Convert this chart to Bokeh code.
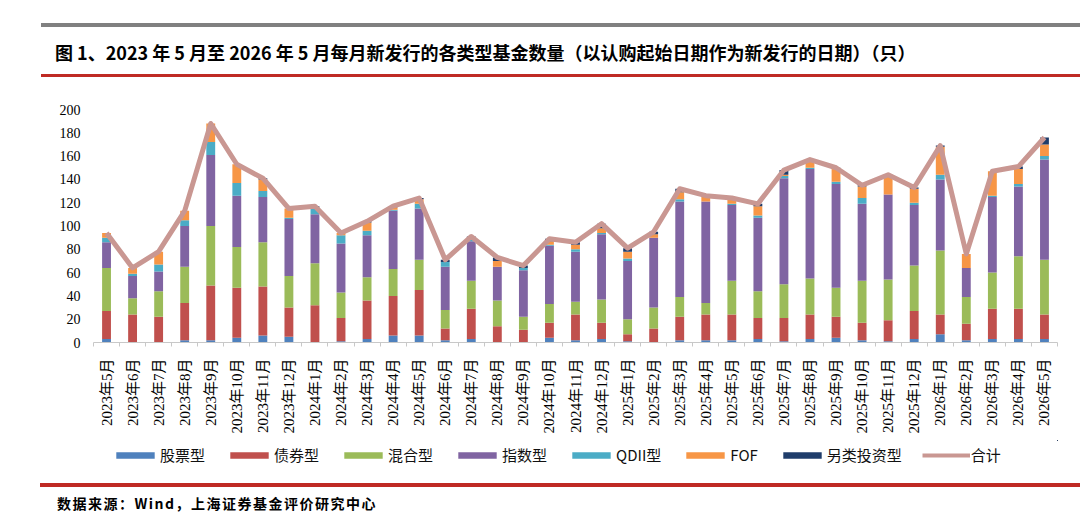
import math
from bokeh.plotting import figure
from bokeh.models import (ColumnDataSource, Range1d, FixedTicker, Legend, LegendItem, Div)
from bokeh.layouts import column
from bokeh.embed import file_html
from bokeh.resources import INLINE

months = ["2023年5月", "2023年6月", "2023年7月", "2023年8月", "2023年9月", "2023年10月",
          "2023年11月", "2023年12月", "2024年1月", "2024年2月", "2024年3月", "2024年4月",
          "2024年5月", "2024年6月", "2024年7月", "2024年8月", "2024年9月", "2024年10月",
          "2024年11月", "2024年12月", "2025年1月", "2025年2月", "2025年3月", "2025年4月",
          "2025年5月", "2025年6月", "2025年7月", "2025年8月", "2025年9月", "2025年10月",
          "2025年11月", "2025年12月", "2026年1月", "2026年2月", "2026年3月", "2026年4月",
          "2026年5月"]

stock = [3, 0, 0, 2, 2, 4, 6, 5, 0, 1, 3, 6, 6, 2, 3, 0, 0, 4, 2, 3, 1, 0, 2, 2, 2, 3, 1, 3, 4, 2, 1, 3, 7, 2, 3, 3, 3]
bond = [24, 24, 22, 32, 47, 43, 42, 25, 32, 20, 33, 34, 39, 10, 26, 14, 11, 13, 22, 14, 6, 12, 20, 22, 22, 18, 20, 21, 18, 15, 18, 24, 17, 14, 26, 26, 21]
mixed = [37, 14, 22, 31, 51, 35, 38, 27, 36, 22, 20, 23, 26, 16, 24, 22, 11, 16, 11, 20, 13, 18, 17, 10, 29, 23, 29, 31, 25, 36, 35, 39, 55, 23, 31, 45, 47]
index_f = [22, 19, 17, 35, 61, 44, 39, 49, 42, 42, 36, 50, 44, 37, 34, 29, 40, 50, 43, 56, 50, 60, 82, 87, 65, 63, 91, 94, 89, 66, 73, 52, 61, 25, 65, 60, 86]
qdii = [4, 2, 6, 5, 11, 11, 5, 1, 5, 7, 4, 1, 4, 4, 2, 0, 2, 1, 2, 1, 2, 0, 2, 0, 1, 2, 2, 1, 2, 5, 0, 2, 4, 0, 1, 2, 3]
fof = [4, 5, 11, 8, 16, 16, 10, 8, 1, 2, 7, 2, 4, 0, 1, 5, 0, 3, 4, 4, 6, 3, 6, 4, 4, 8, 1, 5, 11, 10, 16, 12, 24, 12, 21, 13, 10]
other = [0, 0, 0, 0, 0, 0, 1, 0, 1, 0, 1, 1, 1, 2, 1, 3, 2, 2, 2, 4, 3, 2, 3, 1, 1, 2, 4, 2, 1, 1, 1, 1, 1, 0, 0, 2, 6]
total = [94, 64, 78, 113, 188, 153, 141, 115, 117, 94, 104, 117, 124, 71, 91, 73, 66, 89, 86, 102, 81, 95, 132, 126,
         124, 119, 148, 157, 150, 135, 144, 133, 169, 76, 147, 151, 176]

series_names = ["股票型", "债券型", "混合型", "指数型", "QDII型", "FOF", "另类投资型"]
series_keys = ["stock", "bond", "mixed", "index", "qdii", "fof", "other"]
colors = ["#4f81bd", "#c0504d", "#9bbb59", "#8064a2", "#4bacc6", "#f79646", "#1f3d6b"]
line_color = "#c99792"
y_ticks = [0, 20, 40, 60, 80, 100, 120, 140, 160, 180, 200]

title_text = "图 1、2023 年 5 月至 2026 年 5 月每月新发行的各类型基金数量（以认购起始日期作为新发行的日期）（只）"
source_text = "数据来源：Wind，上海证券基金评价研究中心"

pos = list(range(len(months)))
src = ColumnDataSource(dict(x=pos, stock=stock, bond=bond, mixed=mixed, index=index_f,
                            qdii=qdii, fof=fof, other=other, total=total))

# ---------------- main chart ----------------
p = figure(width=1080, height=345, output_backend="svg", toolbar_location=None,
           x_range=Range1d(-0.5, len(months) - 0.5), y_range=Range1d(0, 200),
           min_border_left=93, min_border_right=23, min_border_top=14, min_border_bottom=98)
p.outline_line_color = None
p.grid.visible = False

p.vbar_stack(series_keys, x="x", width=0.34, source=src, color=colors, line_color=None)
p.line(x="x", y="total", source=src, line_color=line_color, line_width=5, line_join="round")

p.yaxis.ticker = FixedTicker(ticks=y_ticks)
p.yaxis.axis_line_color = None
p.yaxis.major_tick_line_color = None
p.yaxis.minor_tick_line_color = None
p.yaxis.major_tick_out = 0
p.yaxis.major_label_standoff = 13
p.yaxis.major_label_text_font = "Liberation Serif"
p.yaxis.major_label_text_font_size = "14px"
p.yaxis.major_label_text_color = "#000000"

p.xaxis.ticker = FixedTicker(ticks=pos, minor_ticks=[i - 0.5 for i in range(len(months) + 1)])
p.xaxis.major_label_overrides = {i: m for i, m in zip(pos, months)}
p.xaxis.major_label_orientation = math.pi / 2
p.xaxis.axis_line_color = "#c8c8c8"
p.xaxis.major_tick_line_color = None
p.xaxis.major_tick_out = 0
p.xaxis.minor_tick_line_color = "#c8c8c8"
p.xaxis.minor_tick_out = 4
p.xaxis.minor_tick_in = 0
p.xaxis.major_label_standoff = 12
p.xaxis.major_label_text_font = "'Liberation Serif', 'Noto Sans CJK SC'"
p.xaxis.major_label_text_font_size = "15px"
p.xaxis.major_label_text_color = "#000000"

# ---------------- legend strip (same series, drawn out of view; only the legend shows) ----------------
lg = figure(width=1080, height=35, output_backend="svg", toolbar_location=None,
            x_range=Range1d(-1000, -999), y_range=Range1d(-1000, -999),
            x_axis_location=None, y_axis_location=None,
            min_border_left=93, min_border_right=23, min_border_top=0, min_border_bottom=0)
lg.outline_line_color = None
lg.grid.visible = False
lg_bars = lg.vbar_stack(series_keys, x="x", width=0.34, source=src, color=colors, line_color=None)
lg_line = lg.line(x="x", y="total", source=src, line_color=line_color, line_width=4)
items = [LegendItem(label=n, renderers=[r]) for n, r in zip(series_names, lg_bars)]
items.append(LegendItem(label="合计", renderers=[lg_line]))
legend = Legend(items=items, orientation="horizontal", location=(18, 10),
                glyph_width=48, glyph_height=8, label_standoff=1, spacing=20,
                padding=0, margin=0, border_line_color=None, background_fill_alpha=0,
                label_text_font="Noto Sans CJK SC", label_text_font_size="15px",
                label_text_color="#111111", label_height=16)
lg.add_layout(legend, "center")

top_html = (
    '<div style="position:relative;width:1080px;height:95px;overflow:hidden;">'
    '<div style="position:absolute;left:41px;top:23px;width:1039px;height:4px;background:#808080;"></div>'
    '<div style="position:absolute;left:55px;top:40px;line-height:24px;font-family:\'Noto Sans CJK SC\';'
    'font-weight:bold;font-size:18px;color:#000;white-space:nowrap;">' + title_text + '</div>'
    '<div style="position:absolute;left:41px;top:74px;width:1039px;height:3px;background:#bf2a24;"></div>'
    '</div>'
)
foot_html = (
    '<div style="position:relative;width:1080px;height:41px;overflow:hidden;">'
    '<div style="position:absolute;left:40px;top:8px;width:1040px;height:4px;background:#bf2a24;"></div>'
    '<div style="position:absolute;left:57px;top:18px;line-height:20px;font-family:\'Noto Sans CJK SC\';'
    'font-weight:bold;font-size:14px;letter-spacing:1.5px;color:#000;white-space:nowrap;">' + source_text + '</div>'
    '</div>'
)
top_div = Div(text=top_html, width=1080, height=95, margin=0)
foot_div = Div(text=foot_html, width=1080, height=41, margin=0)

layout = column(top_div, p, lg, foot_div, spacing=0)
open("out.html", "w").write(file_html(layout, INLINE))
